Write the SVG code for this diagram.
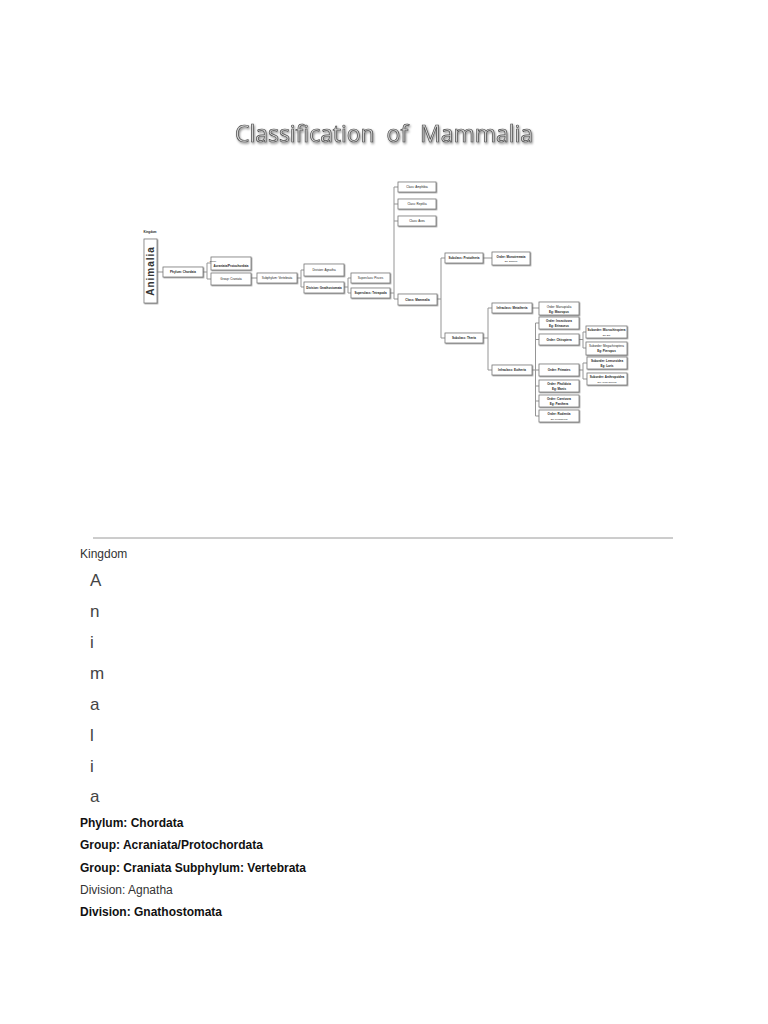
<svg xmlns="http://www.w3.org/2000/svg" width="768" height="1024" viewBox="0 0 768 1024">
<defs>
<filter id="ds" x="-20%" y="-40%" width="140%" height="180%">
<feDropShadow dx="0.8" dy="0.8" stdDeviation="0.4" flood-color="#666" flood-opacity="0.7"/>
</filter>
<filter id="ts" x="-5%" y="-30%" width="110%" height="160%">
<feDropShadow dx="1" dy="1.5" stdDeviation="1.2" flood-color="#000" flood-opacity="0.45"/>
</filter>
</defs>
<style>
.box{fill:#fff;stroke:#7a7a7a;stroke-width:0.8;filter:url(#ds)}
.t{font-family:"Liberation Sans",Arial,sans-serif;font-size:3px;fill:#222;text-anchor:middle}
.b{font-weight:bold}
.s{font-size:2.3px}
.con{fill:none;stroke:#959595;stroke-width:1}
.low{font-family:"Liberation Sans",Arial,sans-serif;font-size:12px;fill:#333}
.lb{font-weight:bold;fill:#111}
.let{font-family:"Liberation Sans",Arial,sans-serif;font-size:17px;fill:#444}
</style>
<rect width="768" height="1024" fill="#fff"/>

<text x="384" y="142" font-family="'Open Sans','Noto Sans',sans-serif" font-size="23" fill="#d4d4d4" stroke="#4a4a4a" stroke-width="0.7" text-anchor="middle" textLength="298" lengthAdjust="spacing" filter="url(#ts)" xml:space="preserve">Classification  of  Mammalia</text>

<g id="connectors">
<path class="con" d="M157 272H163"/>
<path class="con" d="M203 272H207M207 263V279M207 263H211M207 279H211"/>
<path class="con" d="M251 278H257"/>
<path class="con" d="M297 278H301M301 270V287M301 270H304M301 287H304"/>
<path class="con" d="M344 287H348M348 278V293M348 278H351M348 293H351"/>
<path class="con" d="M390 293H394M394 187V299M394 187H398M394 204H398M394 221H398M394 299H398"/>
<path class="con" d="M437 299H441M441 258V338M441 258H445M441 338H445"/>
<path class="con" d="M483 258H492"/>
<path class="con" d="M483 338H488M488 308V370M488 308H492M488 370H492"/>
<path class="con" d="M532 308H539"/>
<path class="con" d="M532 370H535.5M535.5 323V416M535.5 323H539M535.5 339.5H539M535.5 370H539M535.5 386H539M535.5 401H539M535.5 416H539"/>
<path class="con" d="M579 339.5H583M583 332V348M583 332H586M583 348H586"/>
<path class="con" d="M579 370H583M583 363V379M583 363H587M583 379H587"/>
</g>

<g id="kingdom-label"><text class="t b" x="150" y="233" font-size="2.8">Kingdom</text></g>
<g id="animalia"><rect class="box" x="144" y="239" width="13" height="64"/>
<text transform="translate(154.2,271) rotate(-90)" font-family="'Liberation Sans',Arial,sans-serif" font-size="10" font-weight="bold" fill="#333" text-anchor="middle" letter-spacing="1">Animalia</text></g>
<g id="phylum"><rect class="box" x="163" y="267" width="40" height="10"/><text class="t b" x="183" y="273">Phylum: Chordata</text></g>
<g id="acraniata"><rect class="box" x="211" y="257" width="40" height="13"/><text class="t s" x="213" y="261.5" text-anchor="start">Group:</text><text class="t b" x="231" y="266.5" font-size="3.4">Acraniata/Protochordata</text></g>
<g id="craniata"><rect class="box" x="211" y="273" width="40" height="12"/><text class="t" x="231" y="280">Group: Craniata</text></g>
<g id="vertebrata"><rect class="box" x="257" y="273" width="40" height="10"/><text class="t" x="277" y="279">Subphylum: Vertebrata</text></g>
<g id="agnatha"><rect class="box" x="304" y="264" width="40" height="12"/><text class="t" x="324" y="271">Division: Agnatha</text></g>
<g id="gnathostomata"><rect class="box" x="304" y="282" width="40" height="11"/><text class="t b" x="324" y="288.5">Division: Gnathostomata</text></g>
<g id="pisces"><rect class="box" x="351" y="273" width="39" height="10"/><text class="t" x="370.5" y="279">Superclass: Pisces</text></g>
<g id="tetrapoda"><rect class="box" x="351" y="288" width="39" height="10"/><text class="t b" x="370.5" y="294">Superclass: Tetrapoda</text></g>
<g id="amphibia"><rect class="box" x="398" y="182" width="38" height="10"/><text class="t" x="417" y="188">Class: Amphibia</text></g>
<g id="reptilia"><rect class="box" x="398" y="199" width="38" height="10"/><text class="t" x="417" y="205">Class: Reptilia</text></g>
<g id="aves"><rect class="box" x="398" y="216" width="38" height="10"/><text class="t" x="417" y="222">Class: Aves</text></g>
<g id="mammalia"><rect class="box" x="398" y="294" width="39" height="11"/><text class="t b" x="417.5" y="300.5">Class: Mammalia</text></g>
<g id="prototheria"><rect class="box" x="445" y="253" width="38" height="10"/><text class="t b" x="464" y="259">Subclass: Prototheria</text></g>
<g id="monotremata"><rect class="box" x="492" y="252" width="38" height="13"/><text class="t b" x="511" y="257.5">Order: Monotremata</text><text class="t s" x="511" y="262">Eg: Echidna</text></g>
<g id="theria"><rect class="box" x="445" y="333" width="38" height="10"/><text class="t b" x="464" y="339">Subclass: Theria</text></g>
<g id="metatheria"><rect class="box" x="492" y="303" width="40" height="10"/><text class="t b" x="512" y="309">Infraclass: Metatheria</text></g>
<g id="eutheria"><rect class="box" x="492" y="365" width="40" height="10"/><text class="t b" x="512" y="371">Infraclass: Eutheria</text></g>
<g id="marsupialia"><rect class="box" x="539" y="302" width="40" height="13"/><text class="t" x="559" y="307.5">Order: Marsupialia</text><text class="t b" x="559" y="312.5">Eg: Macropus</text></g>
<g id="insectivora"><rect class="box" x="539" y="317" width="40" height="12"/><text class="t b" x="559" y="322">Order: Insectivora</text><text class="t b" x="559" y="326.8">Eg: Erinaceus</text></g>
<g id="chiroptera"><rect class="box" x="539" y="334" width="40" height="11"/><text class="t b" x="559" y="340.5">Order: Chiroptera</text></g>
<g id="microchiroptera"><rect class="box" x="586" y="326" width="41" height="12"/><text class="t b" x="606.5" y="331">Suborder: Microchiroptera</text><text class="t s" x="606.5" y="335.5">Eg: Bat</text></g>
<g id="megachiroptera"><rect class="box" x="586" y="342" width="41" height="13"/><text class="t" x="606.5" y="347">Suborder: Megachiroptera</text><text class="t b" x="606.5" y="352">Eg: Pteropus</text></g>
<g id="primates"><rect class="box" x="539" y="364" width="40" height="12"/><text class="t b" x="559" y="371">Order: Primates</text></g>
<g id="lemuroidea"><rect class="box" x="587" y="357" width="40" height="12"/><text class="t b" x="607" y="362">Suborder: Lemuroidea</text><text class="t b" x="607" y="366.8">Eg: Loris</text></g>
<g id="anthropoidea"><rect class="box" x="587" y="373" width="40" height="12"/><text class="t b" x="607" y="378">Suborder: Anthropoidea</text><text class="t s" x="607" y="382.5">Eg: Homo sapiens</text></g>
<g id="pholidota"><rect class="box" x="539" y="380" width="40" height="12"/><text class="t b" x="559" y="385">Order: Pholidota</text><text class="t b" x="559" y="389.8">Eg: Manis</text></g>
<g id="carnivora"><rect class="box" x="539" y="395" width="40" height="12"/><text class="t b" x="559" y="400">Order: Carnivora</text><text class="t b" x="559" y="404.8">Eg: Panthera</text></g>
<g id="rodentia"><rect class="box" x="539" y="410" width="40" height="12"/><text class="t b" x="559" y="415">Order: Rodentia</text><text class="t s" x="559" y="419.5">Eg: Funambulus</text></g>

<line x1="93" y1="538" x2="673" y2="538" stroke="#9a9a9a" stroke-width="1"/>

<text class="low" x="80" y="558" font-size="11.5">Kingdom</text>
<text class="let" x="90" y="586">A</text>
<text class="let" x="90" y="617">n</text>
<text class="let" x="90" y="648">i</text>
<text class="let" x="90" y="679">m</text>
<text class="let" x="90" y="710">a</text>
<text class="let" x="90" y="741">l</text>
<text class="let" x="90" y="772">i</text>
<text class="let" x="90" y="802">a</text>

<text class="low lb" x="80" y="827">Phylum: Chordata</text>
<text class="low lb" x="80" y="849">Group: Acraniata/Protochordata</text>
<text class="low lb" x="80" y="872">Group: Craniata Subphylum: Vertebrata</text>
<text class="low" x="80" y="894">Division: Agnatha</text>
<text class="low lb" x="80" y="916">Division: Gnathostomata</text>
</svg>
